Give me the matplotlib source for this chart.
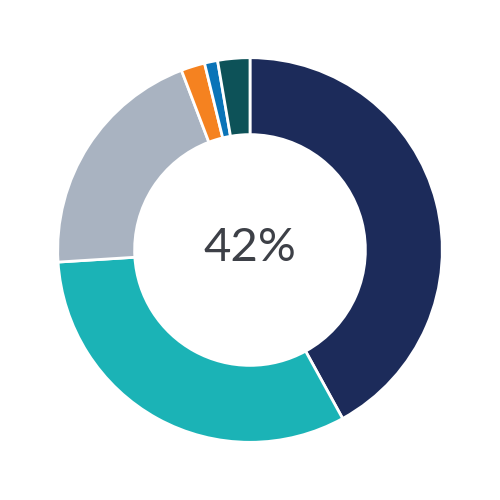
import matplotlib.pyplot as plt

labels = ['Navy', 'Teal', 'Grey', 'Orange', 'Blue', 'Dark teal']
values = [42, 32, 20.2, 2.0, 1.1, 2.7]
colors = ['#1c2b5a', '#1bb3b6', '#a9b3c1', '#f58220', '#0a74b8', '#0d5258']
center_text = '42%'

fig = plt.figure(figsize=(5, 5), dpi=100)
ax = fig.add_axes([0, 0, 1, 1])
ax.pie(values, colors=colors, startangle=90, counterclock=False,
       wedgeprops=dict(width=0.4, edgecolor='white', linewidth=2))
ax.text(0, 0.01, center_text, ha='center', va='center', fontsize=34,
        color='#3d4047', family='Lato', fontweight='normal')
ax.set_xlim(-1.3, 1.3)
ax.set_ylim(-1.3, 1.3)
ax.set_aspect('equal')
ax.axis('off')
fig.savefig('out.png', dpi=100, facecolor='white')
